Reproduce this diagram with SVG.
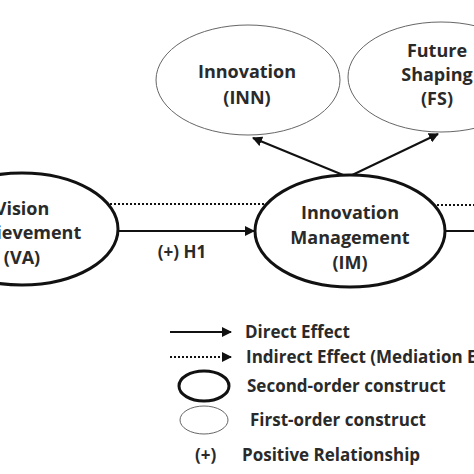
<svg xmlns="http://www.w3.org/2000/svg" width="474" height="474" viewBox="0 0 474 474">
<defs>
<style>
text{font-family:"Open Sans","Liberation Sans",sans-serif;font-weight:bold;font-size:18px;fill:#2a2a2a;}
.c{text-anchor:middle;}
.lg{font-size:17px;}
.first{fill:#fff;stroke:#666;stroke-width:1;}
.second{fill:#fff;stroke:#111;stroke-width:3;}
.solid{stroke:#111;stroke-width:2;fill:none;}
.dot{stroke:#111;stroke-width:2;fill:none;stroke-dasharray:2 2;}
</style>
<marker id="ah" viewBox="0 0 10 10" refX="9" refY="5" markerWidth="5" markerHeight="5" orient="auto" markerUnits="strokeWidth">
<path d="M0,0 L10,5 L0,10 z" fill="#111"/>
</marker>
</defs>
<rect width="474" height="474" fill="#fff"/>
<g id="connectors">
<line class="solid" x1="348" y1="177" x2="253" y2="138" marker-end="url(#ah)"/>
<line class="solid" x1="348" y1="177" x2="438" y2="134" marker-end="url(#ah)"/>
<line class="solid" x1="118" y1="231" x2="254" y2="231" marker-end="url(#ah)"/>
<line class="dot" x1="110" y1="204" x2="268" y2="204"/>
<line class="dot" x1="437" y1="205" x2="474" y2="205"/>
<line class="solid" x1="445" y1="231" x2="474" y2="231"/>
<text class="c lg" x="182" y="258">(+) H1</text>
</g>
<g id="node-inn">
<ellipse class="first" cx="248" cy="80" rx="92" ry="55"/>
<text class="c" x="247" y="78">Innovation</text>
<text class="c" x="247" y="104">(INN)</text>
</g>
<g id="node-fs">
<ellipse class="first" cx="441" cy="77" rx="93" ry="55"/>
<text class="c" x="437" y="57">Future</text>
<text class="c" x="437" y="81">Shaping</text>
<text class="c" x="437" y="105">(FS)</text>
</g>
<g id="node-va">
<ellipse class="second" cx="22" cy="229" rx="96" ry="56"/>
<text class="c" x="22" y="215">Vision</text>
<text class="c" x="22" y="239">Achievement</text>
<text class="c" x="22" y="264">(VA)</text>
</g>
<g id="node-im">
<ellipse class="second" cx="350" cy="231" rx="95" ry="56"/>
<text class="c" x="350" y="219">Innovation</text>
<text class="c" x="350" y="244">Management</text>
<text class="c" x="350" y="269">(IM)</text>
</g>
<g id="legend">
<line class="solid" x1="170" y1="332" x2="231" y2="332" marker-end="url(#ah)"/>
<text class="lg" x="245" y="338">Direct Effect</text>
<line class="dot" x1="170" y1="357" x2="231" y2="357" marker-end="url(#ah)"/>
<text class="lg" x="246" y="363">Indirect Effect (Mediation Effect)</text>
<ellipse class="second" cx="204" cy="386" rx="25" ry="15"/>
<text class="lg" x="247" y="392">Second-order construct</text>
<ellipse class="first" cx="204" cy="420" rx="24" ry="14"/>
<text class="lg" x="250" y="426">First-order construct</text>
<text class="lg" x="195" y="461">(+)</text>
<text class="lg" x="242" y="461">Positive Relationship</text>
</g>
</svg>
